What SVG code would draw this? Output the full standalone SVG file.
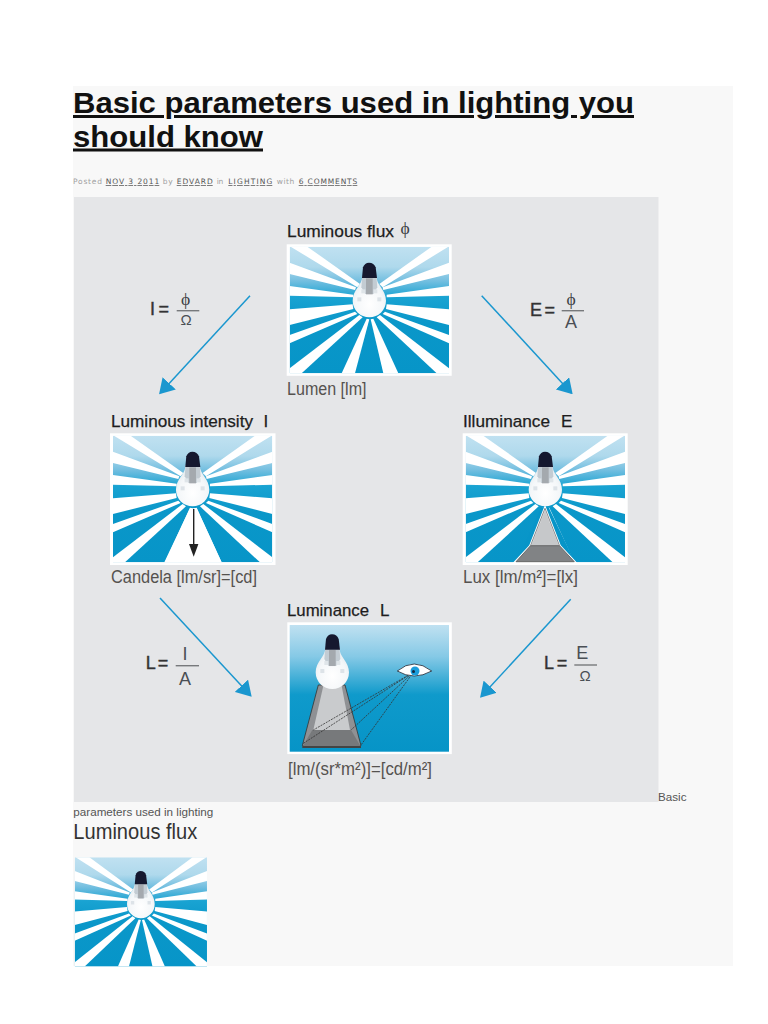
<svg xmlns="http://www.w3.org/2000/svg" xmlns:xlink="http://www.w3.org/1999/xlink" width="768" height="1024" viewBox="0 0 768 1024">
<style>
text{font-family:"Liberation Sans",Arial,sans-serif}
.h{font-size:30px;font-weight:700;fill:#111;text-decoration:underline;text-decoration-thickness:3px;text-underline-offset:3px;text-decoration-skip-ink:none}
.m{font-family:"DejaVu Sans",Verdana,sans-serif;font-size:7.500px;fill:#a0a0a0}
.ml{fill:#555;text-decoration:underline}
.t{font-size:17px;fill:#1d1d1d;stroke:#1d1d1d;stroke-width:.25}
.c{font-size:17.5px;fill:#55524f}
.f{font-size:18px;fill:#333;stroke:#333;stroke-width:.4}
.s{font-size:18px;fill:#4a4f55;text-anchor:middle}
.o{font-size:15px;fill:#4a4f55;text-anchor:middle}
.p{font-family:"Liberation Serif",serif;font-size:17.500px;fill:#3d3f44;text-anchor:middle}
.b{fill:#fff}
.fr{stroke:#77797c;stroke-width:1.4}
.cn{fill:none;stroke:#1a97cf;stroke-width:1.5;marker-end:url(#ah)}
.dash{fill:none;stroke:#333;stroke-width:.8;stroke-dasharray:2 1}
</style>
<defs>
<linearGradient id="sky" gradientUnits="userSpaceOnUse" x1="0" y1="110" x2="0" y2="490">
<stop offset="0" stop-color="#c0e1f1"/><stop offset=".16" stop-color="#afd9ec"/><stop offset=".27" stop-color="#74bfe0"/><stop offset=".4" stop-color="#19a3d2"/><stop offset=".6" stop-color="#0a97c9"/><stop offset="1" stop-color="#0795c8"/>
</linearGradient>
<linearGradient id="lg" x1="0" y1="0" x2="0" y2="1"><stop offset="0" stop-color="#c0e1f1"/><stop offset=".25" stop-color="#85c9e6"/><stop offset=".55" stop-color="#0f9acb"/><stop offset="1" stop-color="#0694c7"/></linearGradient>
<radialGradient id="glass" cx=".5" cy=".68" r=".6"><stop offset="0" stop-color="#fff"/><stop offset=".7" stop-color="#f4f7f9"/><stop offset="1" stop-color="#e6ecf0"/></radialGradient>
<marker id="ah" viewBox="0 0 15 18" refX="13" refY="9" markerWidth="15" markerHeight="18" markerUnits="userSpaceOnUse" orient="auto"><path d="M0 0L15 9L0 18Z" fill="#1a97cf"/></marker>
<clipPath id="cp"><rect x="59" y="110" width="478" height="380"/></clipPath>
<g id="bulb">
<path d="M277 198L319 198C319 225 348 240 348 272A50 50 0 0 1 248 272C248 240 277 225 277 198Z" fill="url(#glass)"/>
<path d="M277 198H319L322 232L310 252H286L274 232Z" fill="#c3ccd3"/>
<rect x="288" y="205" width="20" height="48" fill="#a4a9ae"/>
<rect x="274" y="238" width="12" height="12" fill="#dfe5e9"/><rect x="310" y="238" width="12" height="12" fill="#dfe5e9"/>
<rect x="262" y="262" width="12" height="12" fill="#dde3e8"/><rect x="322" y="262" width="12" height="12" fill="#dde3e8"/>
<path d="M276 204L279 172Q284 158 297 158Q312 158 317 172L321 204Z" fill="#15182f"/>
</g>
<g id="rays" clip-path="url(#cp)">
<rect x="59" y="110" width="478" height="380" fill="url(#sky)"/>
<g class="b">
<path d="M62 110H112L270 222L262 232Z"/><path d="M59 158V192L255 240L258 232Z"/><path d="M59 228V257L250 262V254Z"/><path d="M59 298V345L250 297L248 283Z"/><path d="M59 375V400L262 312L255 305Z"/><path d="M59 475V490H95L278 322L268 315Z"/><path d="M215 490H255L298 328L290 326Z"/><path d="M340 490H385L310 326L302 328Z"/><path d="M500 490H537V475L330 315L320 322Z"/><path d="M537 375V400L338 312L345 305Z"/><path d="M537 298V345L348 297L350 283Z"/><path d="M537 228V257L350 262V254Z"/><path d="M537 158V192L340 240L338 232Z"/><path d="M485 110H535L338 232L328 222Z"/>
</g>
</g>
</defs>
<rect width="768" height="1024" fill="#fff"/>
<rect x="73" y="86" width="660" height="880" fill="#f8f8f8"/>
<g id="heading">
<text class="h" x="73" y="113" textLength="561" lengthAdjust="spacingAndGlyphs">Basic parameters used in lighting you</text>
<text class="h" x="73" y="146.500" textLength="190" lengthAdjust="spacingAndGlyphs">should know</text>
</g>
<g id="meta">
<text class="m" x="73" y="184" textLength="29">Posted</text>
<text class="m ml" x="105.700" y="184" textLength="53.600">NOV 3 2011</text>
<text class="m" x="162.700" y="184" textLength="10">by</text>
<text class="m ml" x="176.700" y="184" textLength="36">EDVARD</text>
<text class="m" x="216.700" y="184" textLength="6.600">in</text>
<text class="m ml" x="228.300" y="184" textLength="44">LIGHTING</text>
<text class="m" x="276.700" y="184" textLength="17.600">with</text>
<text class="m ml" x="298.700" y="184" textLength="58.600">6 COMMENTS</text>
</g>
<rect id="figure" x="74" y="197" width="584.500" height="605" fill="#e5e6e8"/>
<g id="luminous-flux">
<text class="t" x="287" y="237.300" textLength="107" lengthAdjust="spacingAndGlyphs">Luminous flux</text>
<text class="p" x="405" y="234">ϕ</text>
<rect class="b" x="286.700" y="244.300" width="165" height="131.500"/>
<use xlink:href="#rays" href="#rays" transform="translate(270 210) scale(.33333)"/>
<use xlink:href="#bulb" href="#bulb" transform="translate(270 210) scale(.33333)"/>
<text class="c" x="287" y="395" textLength="79.500" lengthAdjust="spacingAndGlyphs">Lumen [lm]</text>
</g>
<g id="luminous-intensity">
<text class="t" x="111" y="426.700" textLength="142" lengthAdjust="spacingAndGlyphs">Luminous intensity</text>
<text class="t" x="263.500" y="426.700">I</text>
<rect class="b" x="110" y="433.300" width="165.500" height="131.700"/>
<use xlink:href="#rays" href="#rays" transform="translate(93.300 399) scale(.33333)"/>
<path class="b" d="M164.300 562.300H221.600L196.700 508.300H190Z"/>
<use xlink:href="#bulb" href="#bulb" transform="translate(93.300 399) scale(.33333)"/>
<path d="M193.700 509V546" stroke="#222" stroke-width="1.400"/>
<path d="M189 544H198.400L193.700 556.700Z" fill="#222"/>
<text class="c" x="111" y="583" textLength="146" lengthAdjust="spacingAndGlyphs">Candela [lm/sr]=[cd]</text>
</g>
<g id="illuminance">
<text class="t" x="463" y="426.700" textLength="87" lengthAdjust="spacingAndGlyphs">Illuminance</text>
<text class="t" x="561" y="426.700">E</text>
<rect class="b" x="462.700" y="433.300" width="165" height="131.700"/>
<use xlink:href="#rays" href="#rays" transform="translate(446 399) scale(.33333)"/>
<path d="M517 562.300H575L549 508H541Z" fill="#0795c8"/>
<path d="M545 507.500L530 546L515 562H575L560 546Z" fill="#c6c8ca" stroke="#fff" stroke-width="2"/>
<path d="M530.500 545.700H559.500L574.300 561.700H516Z" fill="#818385" stroke="#555" stroke-width=".8"/>
<path d="M545 508.300L530.500 545.700M545 508.300L559.500 545.700" stroke="#6a6c6e" stroke-width=".8" fill="none"/>
<use xlink:href="#bulb" href="#bulb" transform="translate(446 399) scale(.33333)"/>
<text class="c" x="463" y="583" textLength="115" lengthAdjust="spacingAndGlyphs">Lux [lm/m²]=[lx]</text>
</g>
<g id="luminance">
<text class="t" x="287" y="615.700" textLength="82" lengthAdjust="spacingAndGlyphs">Luminance</text>
<text class="t" x="380" y="615.700">L</text>
<rect class="b" x="287.300" y="622.300" width="164.500" height="131.800"/>
<rect x="289.700" y="625" width="159.300" height="126.700" fill="url(#lg)"/>
<path d="M318.300 685L302.300 745.700H361L345 685Z" fill="#8f9194" stroke="#333" stroke-width=".8"/>
<path d="M323.300 686H341.700L350 730H313.300Z" fill="#c9cbcd"/>
<path d="M312.300 730H351L361 747H302.300Z" fill="#77797b"/>
<path d="M302.300 747H361" stroke="#444" stroke-width="2"/>
<path class="dash" d="M413.300 672.300L302.300 744M413.300 672.300L313.300 730M413.300 672.300L351 730M413.300 672.300L361 745"/>
<path d="M397.300 671Q414 657 431.700 671Q414 681 397.300 671Z" fill="#fff" stroke="#1c2330" stroke-width=".8"/>
<circle cx="415" cy="671" r="4.500" fill="#1a9ddb"/><circle cx="413.500" cy="671.500" r="1.500" fill="#14263f"/>
<use xlink:href="#bulb" href="#bulb" transform="translate(233 581.700) scale(.33333)"/>
<text class="c" x="288" y="775" textLength="144" lengthAdjust="spacingAndGlyphs">[lm/(sr*m²)]=[cd/m²]</text>
</g>
<g id="connectors">
<path class="cn" d="M250 295.700L160.400 392.900"/>
<path class="cn" d="M481.700 295.700L571.300 392.900"/>
<path class="cn" d="M160 598L250.300 695.300"/>
<path class="cn" d="M570.700 599.300L481.400 696.300"/>
</g>
<g id="formula-intensity">
<text class="f" x="150" y="315" textLength="19" lengthAdjust="spacing">I =</text>
<text class="p" x="185.700" y="305">ϕ</text><path class="fr" d="M176.700 310.700H199.300"/><text class="o" x="186" y="325">Ω</text>
</g>
<g id="formula-illuminance">
<text class="f" x="530" y="315.700" textLength="25" lengthAdjust="spacing">E =</text>
<text class="p" x="571" y="305">ϕ</text><path class="fr" d="M561.700 310.700H584"/><text class="s" x="571" y="328.300">A</text>
</g>
<g id="formula-luminance-i">
<text class="f" x="145.700" y="669" textLength="22.600" lengthAdjust="spacing">L =</text>
<text class="s" x="185" y="660">I</text><path class="fr" d="M175.700 665.700H199"/><text class="s" x="185" y="685">A</text>
</g>
<g id="formula-luminance-e">
<text class="f" x="544" y="669" textLength="23.300" lengthAdjust="spacing">L =</text>
<text class="s" x="582.300" y="659">E</text><path class="fr" d="M574.300 665H597"/><text class="o" x="585" y="681">Ω</text>
</g>
<g id="caption">
<text x="658" y="801" font-size="11.500" fill="#555" textLength="28.500" lengthAdjust="spacingAndGlyphs">Basic</text>
<text x="73.300" y="816" font-size="11.500" fill="#555" textLength="140" lengthAdjust="spacingAndGlyphs">parameters used in lighting</text>
<text x="73.300" y="838.500" font-size="22" fill="#333" textLength="124" lengthAdjust="spacingAndGlyphs">Luminous flux</text>
</g>
<g id="lower-picture" transform="translate(58.400 825.650) scale(.2767 .2877)">
<use xlink:href="#rays" href="#rays"/>
<use xlink:href="#bulb" href="#bulb"/>
</g>
</svg>
